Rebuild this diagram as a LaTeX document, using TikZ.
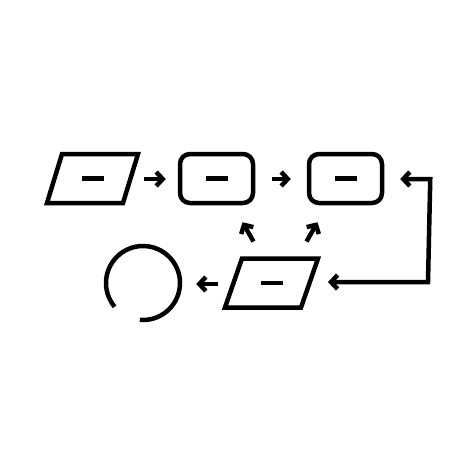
\documentclass[tikz,border=0pt]{standalone}
\usetikzlibrary{arrows.meta,calc}
\begin{document}
\begin{tikzpicture}[x=1pt,y=-1pt,line width=4.5pt,
  shp/.style={draw=none,minimum width=#1,minimum height=49pt,inner sep=0pt,outer sep=0pt},
  rbox/.style={draw,rounded corners=10pt,minimum width=73pt,minimum height=49pt,inner sep=0pt},
  tip/.tip={Straight Barb[length=6.5pt,width=14pt]},
  conn/.style={-tip,line join=miter},
  dashmark/.style={line cap=butt}]
\useasboundingbox (0,0) rectangle (474,474);
% nodes
\node (p1) [shp=91pt] at (92.5,178.5) {};
\node (b1) [rbox] at (216.5,178.5) {};
\node (b2) [rbox] at (345.5,178.5) {};
\node (p2) [shp=93pt] at (271.5,283) {};
\node (c1) [circle,minimum size=74pt,inner sep=0pt] at (143,283) {};
% parallelograms
\draw[line join=miter] (p1.south west) -- ($(p1.north west)+(15,0)$) -- (p1.north east) -- ($(p1.south east)-(15,0)$) -- cycle;
\draw[line join=miter] (p2.south west) -- ($(p2.north west)+(17,0)$) -- (p2.north east) -- ($(p2.south east)-(17,0)$) -- cycle;
% dashes
\foreach \n in {p1,b1,b2,p2}{\draw[dashmark] ($(\n.center)+(-11,0)$) -- ($(\n.center)+(11,0)$);}
% circle arc
\draw ($(c1.center)+(95:37)$) arc[start angle=95,end angle=-220,radius=37];
% connectors
\draw[conn] ($(p1.east)+(6,0.5)$) -- ($(b1.west)+(-12,0.5)$);
\draw[conn] ($(b1.east)+(17,0.5)$) -- ($(b2.west)+(-16,0.5)$);
\draw[conn] ($(p2.north)+(-18,-17)$) -- ($(b1.south)+(26,17)$);
\draw[conn] ($(p2.north)+(35,-17)$) -- ($(b2.south)+(-28,17)$);
\draw[conn] ($(p2.west)+(-7,1)$) -- ($(c1.east)+(14,1)$);
\coordinate (rt) at ($(b2.east)+(46,0.5)$);
\coordinate (rb) at ($(p2.east)+(110,-1)$);
\draw[tip-tip,line join=miter] ($(b2.east)+(16,0.5)$) -- (rt) -- (rb) -- ($(p2.east)+(10,-1)$);
\end{tikzpicture}
\end{document}
